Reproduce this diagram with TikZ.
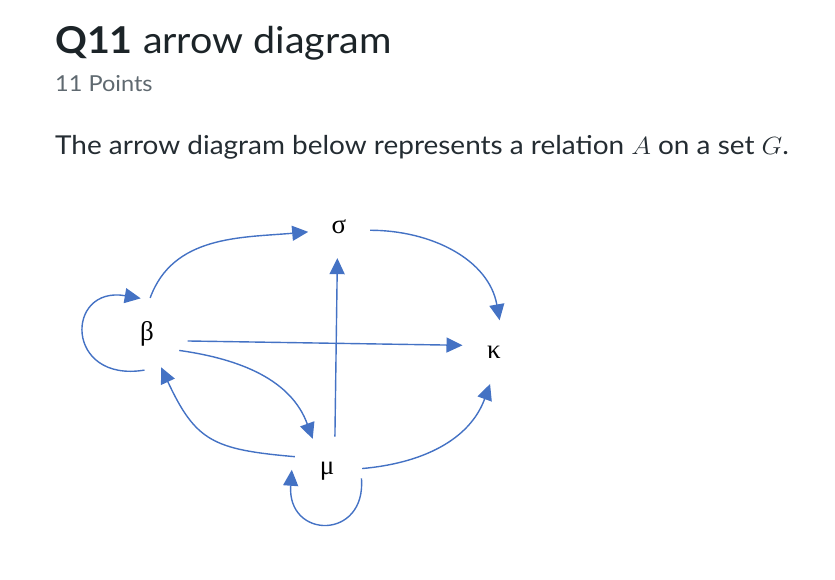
\documentclass[tikz,border=0pt]{standalone}
\usepackage{fontspec}
\usepackage{graphicx}
\setmainfont{Lato}
\newfontfamily\greekfont{Liberation Serif}
\usetikzlibrary{arrows.meta}
\definecolor{arrowblue}{RGB}{68,114,196}
\definecolor{titlecol}{RGB}{28,36,40}
\definecolor{graycol}{RGB}{95,105,112}
\definecolor{textcol}{RGB}{36,44,50}
\newcommand{\mathbig}[1]{{\fontsize{33}{33}\selectfont$#1$}}
\begin{document}
\begin{tikzpicture}[x=1pt,y=1pt,
  letter/.style={circle,inner sep=0pt,font=\greekfont\fontsize{27}{27}\selectfont},
  rel/.style={draw=arrowblue,line width=1.4pt,-{Triangle[length=16pt,width=15pt]}},
  txt/.style={anchor=base west,inner sep=0pt}]
\useasboundingbox (0,0) rectangle (835,-580);
\node[txt,text=titlecol,font=\fontsize{37}{37}\selectfont] (title) at (55,-54) {\scalebox{1.067}[1]{\textbf{Q11} arrow diagram}};
\node[txt,text=graycol,font=\fontsize{22}{22}\selectfont] (points) at (55,-92) {\scalebox{1.07}[1]{11 Points}};
\node[txt,text=textcol,font=\fontsize{26}{26}\selectfont] (desc) at (55,-155) {\scalebox{1.075}[1]{The arrow diagram below represents a relation \mathbig{A} on a set \mathbig{G}.}};
\node[letter,minimum size=72pt] (b) at (147,-334) {β};
\node[letter,minimum size=62pt] (s) at (339,-227) {σ};
\node[letter,minimum size=64pt] (k) at (494,-352) {κ};
\node[letter,minimum size=70pt] (m) at (327,-471) {μ};
\draw[rel] (b.85) to[out=70,in=185] (s.189);
\draw[rel] (s.-6) to[out=0,in=100] (k.80);
\draw[rel] (m.77) -- (s.267);
\draw[rel,shorten <=5pt] (b.-11) -- (k.168);
\draw[rel] (b.-27) to[out=-8,in=110] (m.114);
\draw[rel] (m.156) to[out=175,in=-65,looseness=1.3] (b.-67);
\draw[rel] (m.4) to[out=5,in=-110] (k.263);
\draw[rel] (b.266) .. controls +(-80,-13) and +(-76,13) .. (b.100);
\draw[rel] (m.-12) .. controls +(5,-62) and +(-5,-70) .. (m.178);
\end{tikzpicture}
\end{document}
